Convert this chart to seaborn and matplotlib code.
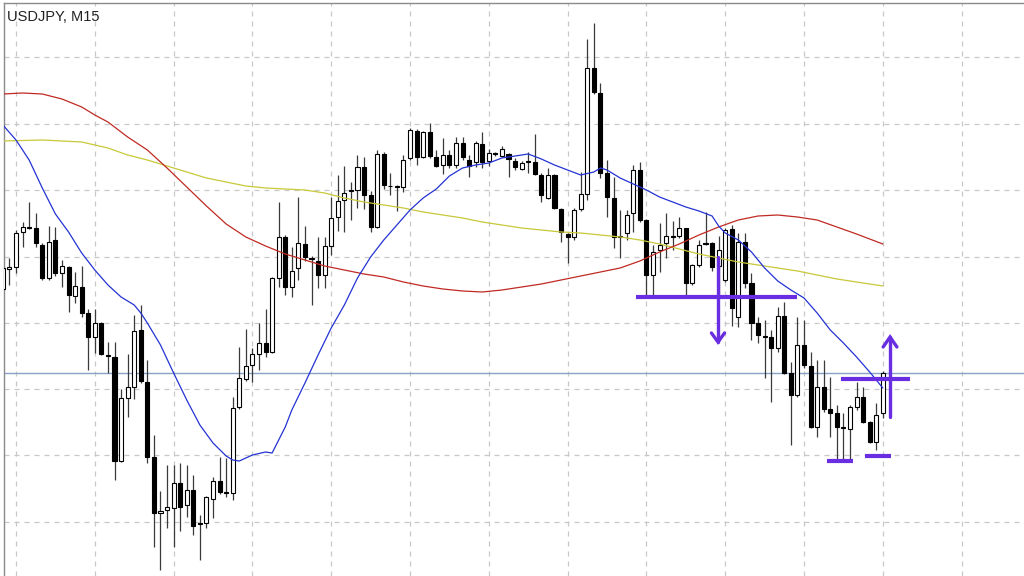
import numpy as np
import pandas as pd
import matplotlib
matplotlib.use("Agg")
import matplotlib.pyplot as plt
import seaborn as sns

# USDJPY M15 candles (bar 0 = leftmost)
opens = [111.711, 111.731, 111.733, 111.768, 111.773, 111.772, 111.755, 111.722, 111.760, 111.727,
         111.733, 111.704, 111.713, 111.687, 111.663, 111.677, 111.645, 111.643, 111.539, 111.602,
         111.613, 111.670, 111.618, 111.543, 111.487, 111.490, 111.492, 111.517, 111.495, 111.510,
         111.476, 111.477, 111.501, 111.519, 111.508, 111.507, 111.593, 111.621, 111.635, 111.646,
         111.657, 111.648, 111.722, 111.763, 111.713, 111.732, 111.756, 111.742, 111.739, 111.725,
         111.754, 111.783, 111.800, 111.809, 111.810, 111.833, 111.805, 111.773, 111.846, 111.814,
         111.814, 111.813, 111.842, 111.869, 111.843, 111.868, 111.843, 111.835, 111.845, 111.835,
         111.857, 111.840, 111.838, 111.856, 111.839, 111.847, 111.844, 111.846, 111.839, 111.831,
         111.839, 111.838, 111.825, 111.802, 111.825, 111.791, 111.766, 111.763, 111.791, 111.806,
         111.932, 111.907, 111.827, 111.802, 111.764, 111.767, 111.787, 111.830, 111.780, 111.725,
         111.750, 111.757, 111.764, 111.764, 111.772, 111.717, 111.735, 111.757, 111.757, 111.734,
         111.720, 111.771, 111.683, 111.758, 111.717, 111.677, 111.664, 111.663, 111.652, 111.684,
         111.627, 111.605, 111.655, 111.634, 111.573, 111.613, 111.591, 111.587, 111.573, 111.571,
         111.593, 111.603, 111.578, 111.558, 111.587]
highs = [111.735, 111.742, 111.770, 111.778, 111.798, 111.787, 111.757, 111.774, 111.773, 111.740,
         111.734, 111.728, 111.734, 111.691, 111.691, 111.678, 111.658, 111.658, 111.611, 111.646,
         111.685, 111.695, 111.640, 111.565, 111.509, 111.535, 111.535, 111.537, 111.535, 111.525,
         111.485, 111.504, 111.523, 111.543, 111.542, 111.603, 111.653, 111.671, 111.652, 111.677,
         111.691, 111.723, 111.798, 111.765, 111.753, 111.803, 111.774, 111.744, 111.763, 111.763,
         111.803, 111.825, 111.834, 111.818, 111.845, 111.843, 111.809, 111.850, 111.848, 111.827,
         111.815, 111.845, 111.872, 111.871, 111.869, 111.877, 111.850, 111.862, 111.850, 111.863,
         111.863, 111.845, 111.859, 111.868, 111.851, 111.848, 111.854, 111.847, 111.842, 111.839,
         111.848, 111.866, 111.827, 111.832, 111.826, 111.792, 111.767, 111.792, 111.828, 111.961,
         111.977, 111.917, 111.840, 111.823, 111.790, 111.790, 111.835, 111.838, 111.781, 111.755,
         111.777, 111.787, 111.779, 111.783, 111.772, 111.736, 111.760, 111.788, 111.758, 111.764,
         111.772, 111.775, 111.767, 111.767, 111.727, 111.683, 111.680, 111.670, 111.693, 111.698,
         111.638, 111.683, 111.680, 111.648, 111.640, 111.640, 111.623, 111.595, 111.587, 111.595,
         111.618, 111.613, 111.579, 111.597, 111.629]
lows = [111.708, 111.715, 111.727, 111.753, 111.771, 111.753, 111.720, 111.720, 111.724, 111.713,
        111.688, 111.697, 111.683, 111.630, 111.647, 111.645, 111.627, 111.520, 111.538, 111.583,
        111.601, 111.617, 111.537, 111.453, 111.430, 111.472, 111.453, 111.469, 111.483, 111.465,
        111.440, 111.472, 111.482, 111.506, 111.503, 111.500, 111.591, 111.619, 111.618, 111.630,
        111.643, 111.647, 111.713, 111.705, 111.703, 111.720, 111.739, 111.695, 111.712, 111.712,
        111.745, 111.769, 111.768, 111.780, 111.792, 111.791, 111.768, 111.772, 111.811, 111.805,
        111.789, 111.808, 111.840, 111.835, 111.842, 111.842, 111.833, 111.826, 111.832, 111.832,
        111.840, 111.823, 111.833, 111.832, 111.834, 111.844, 111.843, 111.823, 111.830, 111.830,
        111.827, 111.825, 111.798, 111.801, 111.791, 111.758, 111.737, 111.760, 111.789, 111.800,
        111.906, 111.822, 111.783, 111.752, 111.742, 111.760, 111.768, 111.778, 111.705, 111.705,
        111.728, 111.742, 111.750, 111.762, 111.705, 111.715, 111.733, 111.755, 111.729, 111.704,
        111.718, 111.674, 111.673, 111.712, 111.660, 111.657, 111.622, 111.598, 111.648, 111.626,
        111.555, 111.603, 111.632, 111.572, 111.563, 111.588, 111.563, 111.540, 111.540, 111.540,
        111.590, 111.577, 111.557, 111.550, 111.582]
closes = [111.732, 111.733, 111.767, 111.773, 111.772, 111.757, 111.722, 111.758, 111.727, 111.734,
          111.705, 111.714, 111.687, 111.663, 111.677, 111.646, 111.644, 111.539, 111.602, 111.613,
          111.669, 111.619, 111.543, 111.487, 111.489, 111.493, 111.517, 111.493, 111.510, 111.474,
          111.477, 111.503, 111.519, 111.508, 111.507, 111.592, 111.622, 111.634, 111.646, 111.657,
          111.648, 111.722, 111.763, 111.713, 111.729, 111.757, 111.743, 111.741, 111.725, 111.754,
          111.782, 111.799, 111.807, 111.810, 111.833, 111.805, 111.773, 111.846, 111.815, 111.814,
          111.813, 111.840, 111.870, 111.843, 111.868, 111.844, 111.834, 111.845, 111.835, 111.857,
          111.843, 111.834, 111.857, 111.838, 111.847, 111.846, 111.851, 111.841, 111.833, 111.837,
          111.838, 111.826, 111.805, 111.825, 111.792, 111.768, 111.763, 111.790, 111.806, 111.932,
          111.908, 111.827, 111.803, 111.763, 111.763, 111.785, 111.830, 111.780, 111.725, 111.748,
          111.755, 111.764, 111.763, 111.772, 111.717, 111.735, 111.755, 111.756, 111.733, 111.750,
          111.770, 111.692, 111.758, 111.717, 111.677, 111.665, 111.663, 111.652, 111.684, 111.627,
          111.605, 111.655, 111.635, 111.573, 111.613, 111.591, 111.587, 111.573, 111.572, 111.593,
          111.603, 111.578, 111.558, 111.585, 111.627]

# moving averages (read at selected bars)
fast_bar = [0, 2, 4, 6, 8, 10, 12, 14, 16, 18, 20, 21, 22, 24, 26, 28, 30, 32, 34, 35, 36, 38, 40, 41,
            42, 43, 44, 46, 48, 50, 52, 54, 56, 58, 60, 62, 64, 66, 68, 70, 72, 74, 76, 78, 80, 82, 84,
            86, 88, 90, 91, 92, 94, 96, 98, 100, 102, 104, 106, 108, 109, 110, 112, 114, 116, 118, 120,
            122, 124, 126, 128, 130, 132, 134]
fast_ma = [111.875, 111.860, 111.840, 111.812, 111.786, 111.768, 111.747, 111.730, 111.715, 111.703,
           111.695, 111.687, 111.677, 111.655, 111.627, 111.600, 111.575, 111.557, 111.544, 111.540,
           111.539, 111.545, 111.548, 111.547, 111.560, 111.573, 111.590, 111.617, 111.645, 111.672,
           111.695, 111.722, 111.743, 111.760, 111.775, 111.790, 111.802, 111.811, 111.824, 111.832,
           111.835, 111.837, 111.842, 111.844, 111.846, 111.841, 111.835, 111.830, 111.825, 111.828,
           111.832, 111.830, 111.822, 111.816, 111.810, 111.803, 111.798, 111.793, 111.789, 111.784,
           111.774, 111.767, 111.760, 111.748, 111.732, 111.719, 111.710, 111.702, 111.687, 111.670,
           111.657, 111.643, 111.628, 111.612]
slow_bar = [0, 3, 6, 9, 12, 14, 16, 19, 22, 25, 28, 31, 34, 37, 40, 43, 46, 49, 52, 55, 58, 61, 64, 67,
            70, 73, 76, 79, 82, 85, 88, 91, 94, 97, 100, 103, 106, 109, 112, 115, 118, 121, 124, 127,
            130, 134]
red_ma = [111.906, 111.907, 111.906, 111.901, 111.893, 111.885, 111.878, 111.863, 111.850, 111.832,
          111.813, 111.794, 111.776, 111.763, 111.754, 111.746, 111.740, 111.734, 111.730, 111.726,
          111.723, 111.718, 111.714, 111.711, 111.709, 111.708, 111.710, 111.713, 111.716, 111.720,
          111.724, 111.728, 111.732, 111.739, 111.748, 111.756, 111.765, 111.773, 111.780, 111.784,
          111.785, 111.783, 111.780, 111.773, 111.766, 111.756]
yellow_bar = [0, 6, 12, 16, 19, 22, 25, 28, 31, 34, 37, 40, 43, 46, 49, 52, 55, 58, 61, 64, 67, 70,
              73, 76, 79, 82, 85, 88, 91, 94, 97, 100, 103, 106, 109, 112, 115, 118, 121, 124, 127,
              130, 134]
yellow_ma = [111.859, 111.860, 111.858, 111.852, 111.845, 111.840, 111.834, 111.828, 111.822, 111.818,
             111.814, 111.812, 111.811, 111.810, 111.807, 111.802, 111.798, 111.795, 111.792, 111.788,
             111.785, 111.782, 111.778, 111.775, 111.772, 111.770, 111.768, 111.767, 111.765, 111.763,
             111.760, 111.756, 111.751, 111.746, 111.742, 111.738, 111.735, 111.732, 111.729, 111.725,
             111.721, 111.718, 111.714]

# hand-drawn marks (bar, price)
level_lines = [((96.4, 120.9), 111.7035), ((127.6, 138.2), 111.621),
               ((125.5, 129.5), 111.539), ((131.3, 135.3), 111.544)]
down_arrow = (108.9, 111.743, 111.658)
up_arrow = (135.1, 111.583, 111.663)
grid_prices = [111.943, 111.876, 111.810, 111.743, 111.677, 111.611, 111.545, 111.478]

df = pd.DataFrame({"open": opens, "high": highs, "low": lows, "close": closes})
df["bar"] = np.arange(len(df))
up = df["close"] >= df["open"]

sns.set_style("white")
plt.rcParams["font.family"] = ["Liberation Sans", "DejaVu Sans"]

fig = plt.figure(figsize=(10.24, 5.76), dpi=100)
ax = fig.add_axes([4 / 1024, 0, 1020 / 1024, 573 / 576])

# grid
for p in grid_prices:
    ax.axhline(p, color="#c8c8c8", lw=0.9, ls=(0, (4, 4)), zorder=0)
for b in range(2, 160, 12):
    ax.axvline(b, color="#c8c8c8", lw=0.9, ls=(0, (4, 4)), zorder=0)

# last price line
ax.axhline(closes[-1], color="#86a2c4", lw=1.0, zorder=1)

# candles
ax.vlines(df["bar"], df["low"], df["high"], color="#3a3a3a", lw=0.9, zorder=2)
body_lo = df[["open", "close"]].min(axis=1)
body_h = (df["close"] - df["open"]).abs()
ax.bar(df["bar"][up], body_h[up], bottom=body_lo[up], width=0.62,
       color="white", edgecolor="black", linewidth=0.8, zorder=3)
ax.bar(df["bar"][~up], body_h[~up], bottom=body_lo[~up], width=0.62,
       color="black", edgecolor="black", linewidth=0.8, zorder=3)

# moving averages
sns.lineplot(x=yellow_bar, y=yellow_ma, color="#c8c83a", lw=0.9, ax=ax, zorder=4)
sns.lineplot(x=slow_bar, y=red_ma, color="#c02a22", lw=0.9, ax=ax, zorder=4)
sns.lineplot(x=fast_bar, y=fast_ma, color="#2433d4", lw=0.9, ax=ax, zorder=4)

# purple drawings
purple = "#6a2ee2"
for (x0, x1), p in level_lines:
    ax.plot([x0, x1], [p, p], color=purple, lw=3.0, solid_capstyle="butt", zorder=6)
bx, top, tip = down_arrow
ax.plot([bx, bx], [top, tip], color=purple, lw=2.4, zorder=6)
ax.plot([bx - 1.0, bx, bx + 1.0], [tip + 0.009, tip, tip + 0.009], color=purple, lw=2.4,
        solid_joinstyle="miter", zorder=6)
ux, bot, utip = up_arrow
ax.plot([ux, ux], [bot, utip], color=purple, lw=2.4, zorder=6)
ax.plot([ux - 1.05, ux, ux + 1.05], [utip - 0.010, utip, utip - 0.010], color=purple, lw=2.4,
        solid_joinstyle="miter", zorder=6)

ax.set_xlim(0.17, 155.5)
ax.set_ylim(111.424, 111.997)
ax.set_xticks([])
ax.set_yticks([])
for side in ["right", "bottom"]:
    ax.spines[side].set_visible(False)
for side in ["left", "top"]:
    ax.spines[side].set_color("#8a8a8a")
    ax.spines[side].set_linewidth(1.0)

ax.text(0.003, 0.987, "USDJPY, M15", transform=ax.transAxes, ha="left", va="top",
        fontsize=10.5, color="#222222")

fig.savefig("out.png", dpi=100)
